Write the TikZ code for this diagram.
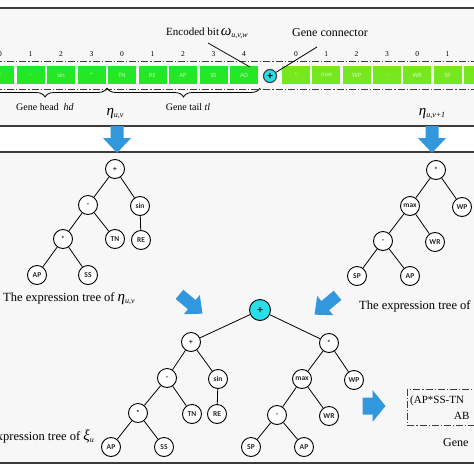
\documentclass[tikz,border=0pt]{standalone}
\usepackage{fontspec}
\setmainfont{Liberation Serif}
\newfontfamily\cbfont{Carlito}
\usetikzlibrary{decorations.pathreplacing}
\definecolor{gA}{RGB}{36,232,36}
\definecolor{gB}{RGB}{118,232,32}
\definecolor{ablue}{RGB}{50,152,222}
\definecolor{rootc}{RGB}{40,222,232}
\definecolor{bgc}{RGB}{247,247,247}
\definecolor{lnc}{RGB}{60,60,60}
\newcommand{\gk}[3]{{\fontsize{#3}{#3}\selectfont\itshape #1}{\fontsize{8}{8}\selectfont\itshape\raisebox{-0.5ex}{#2}}}
\newcommand{\bluearrow}[7]{%
  \fill[ablue, shift={(#1,#2)}, rotate=#3]
    ({-#4/2},{-#7/2}) -- ({#4/2-#5},{-#7/2}) -- ({#4/2-#5},{-#6/2}) -- ({#4/2},0)
    -- ({#4/2-#5},{#6/2}) -- ({#4/2-#5},{#7/2}) -- ({-#4/2},{#7/2}) -- cycle;}
\tikzset{
  tn/.style={circle, draw, fill=white, line width=0.9pt, minimum size=19pt, inner sep=0pt, font=\cbfont\bfseries\fontsize{7.5}{7.5}\selectfont, text=black!85},
  edg/.style={line width=0.8pt},
  cellA/.style={fill=gA, minimum width=28pt, minimum height=18pt, inner sep=0pt, font=\cbfont\fontsize{6.5}{6.5}\selectfont, text=white!70!gA},
  cellB/.style={cellA, fill=gB, text=white!70!gB},
  idx/.style={font=\fontsize{7.5}{7.5}\selectfont, inner sep=0pt},
  lab/.style={inner sep=0pt, font=\fontsize{11}{11}\selectfont},
  dashdot/.style={dash pattern=on 7pt off 2pt on 1.2pt off 2pt, line width=0.9pt, draw=lnc},
  hline/.style={line width=1.3pt, draw=lnc},
  brc/.style={decorate, decoration={brace, amplitude=9pt, mirror}, line width=0.8pt}
}
\begin{document}
\begin{tikzpicture}[x=1pt,y=-1pt]
\useasboundingbox (0,0) rectangle (474,474);
\clip (0,0) rectangle (474,474);
\fill[white] (0,0) rectangle (474,474);
\fill[bgc] (0,8) rectangle (474,463);
\fill[white] (0,126) rectangle (474,152);
\draw[hline] (0,8) -- (474,8);
\draw[hline] (0,126) -- (474,126);
\draw[hline] (0,152) -- (474,152);
\draw[hline] (0,463) -- (474,463);

% chromosome
\draw[dashdot] (-5,61) -- (480,61);
\draw[dashdot] (-5,89) -- (480,89);
\foreach \t [count=\i from 0] in {+,-,sin,*,TN,RE,AP,SS,AO}{
  \node[cellA] (ca\i) at ({30.5*\i},75) {\t};
}
\foreach \n [count=\i from 0] in {0,1,2,3,0,1,2,3,4}{
  \node[idx] (ia\i) at ({30.5*\i},54) {\n};
}
\foreach \t [count=\i from 0] in {*,max,WP,-,WR,SP,{}}{
  \node[cellB] (cb\i) at ({296+30.3*\i},75) {\t};
}
\foreach \n [count=\i from 0] in {0,1,2,3,0,1}{
  \node[idx] (ib\i) at ({296+30.3*\i},54) {\n};
}
\node[circle, draw=lnc, line width=1.1pt, fill=rootc, minimum size=13pt, inner sep=0pt, font=\cbfont\bfseries\fontsize{11}{11}\selectfont] (conn) at (270,76) {+};

\draw[brc] (-17,88) -- (107,88);
\draw[brc] (107,88) -- (260,88);

\node[lab, font=\fontsize{10}{10}\selectfont] (hd) at (45,107) {Gene head\ \ \textit{hd}};
\node[lab, font=\fontsize{10}{10}\selectfont] (tl) at (188,107) {Gene tail \textit{tl}};
\node[lab] (eta1) at (115,114) {\gk{η}{u,v}{15}};
\node[lab] (eta2) at (432,114) {\gk{η}{u,v+1}{15}};

\node[lab] (enc) at (207,33) {Encoded bit\,\gk{ω}{u,v,w}{15}};
\node[lab, font=\fontsize{12}{12}\selectfont] (gc) at (330,33) {Gene connector};
\coordinate (e1) at (208,43);
\coordinate (e2) at (250,67);
\draw[line width=0.8pt] (e1) -- (e2);
\coordinate (g1) at (317,47);
\draw[line width=0.8pt] (g1) -- (conn);

% blue arrows
\bluearrow{117}{139.5}{-90}{27}{15}{28}{13}
\bluearrow{432}{139.5}{-90}{27}{15}{28}{13}
\bluearrow{191}{304}{-40}{30}{14}{25}{12}
\bluearrow{326}{305}{-140}{30}{14}{25}{12}
\bluearrow{374}{406}{0}{23}{13}{32}{17}

% tree 1
\node[tn] (a1) at (115,169) {+};
\node[tn] (a2) at (88,205) {-};
\node[tn] (a3) at (140,206) {sin};
\node[tn] (a4) at (63,239) {*};
\node[tn] (a5) at (115,239) {TN};
\node[tn] (a6) at (141,240) {RE};
\node[tn] (a7) at (37,275) {AP};
\node[tn] (a8) at (88,275) {SS};
\foreach \u/\v in {a1/a2,a1/a3,a2/a4,a2/a5,a3/a6,a4/a7,a4/a8}{\draw[edg] (\u) -- (\v);}

% tree 2
\node[tn] (b1) at (436,170) {*};
\node[tn] (b2) at (410,206) {max};
\node[tn] (b3) at (462,207) {WP};
\node[tn] (b4) at (383,241) {-};
\node[tn] (b5) at (435,242) {WR};
\node[tn] (b6) at (357,276) {SP};
\node[tn] (b7) at (410,276) {AP};
\foreach \u/\v in {b1/b2,b1/b3,b2/b4,b2/b5,b4/b6,b4/b7}{\draw[edg] (\u) -- (\v);}

\node[lab, anchor=west, font=\fontsize{12.5}{12.5}\selectfont] (lt1) at (3,299) {The expression tree of \gk{η}{u,v}{15}};
\node[lab, anchor=west, font=\fontsize{12.5}{12.5}\selectfont] (lt2) at (359,307) {The expression tree of \gk{η}{u,v+1}{15}};

% combined tree
\node[tn, fill=rootc, minimum size=21pt, font=\cbfont\bfseries\fontsize{11}{11}\selectfont] (r) at (260,310) {+};
\node[tn] (c1) at (191,342) {+};
\node[tn] (c2) at (167,378) {-};
\node[tn] (c3) at (218,379) {sin};
\node[tn] (c4) at (138,413) {*};
\node[tn] (c5) at (192,414) {TN};
\node[tn] (c6) at (217,414) {RE};
\node[tn] (c7) at (111,447) {AP};
\node[tn] (c8) at (164,447) {SS};
\node[tn] (d1) at (329,343) {*};
\node[tn] (d2) at (302,379) {max};
\node[tn] (d3) at (354,380) {WP};
\node[tn] (d4) at (277,415) {-};
\node[tn] (d5) at (329,416) {WR};
\node[tn] (d6) at (251,447) {SP};
\node[tn] (d7) at (304,447) {AP};
\foreach \u/\v in {r/c1,r/d1,c1/c2,c1/c3,c2/c4,c2/c5,c3/c6,c4/c7,c4/c8,d1/d2,d1/d3,d2/d4,d2/d5,d4/d6,d4/d7}{\draw[edg] (\u) -- (\v);}

\node[lab, anchor=east, font=\fontsize{12.5}{12.5}\selectfont] (lt3) at (94,437) {The expression tree of \gk{ξ}{u}{15}};

\node[draw, dashdot, minimum width=80pt, minimum height=36pt, anchor=north west, inner sep=0pt] (box) at (407,389) {};
\node[lab, anchor=west] (f1) at (410,401) {(AP*SS-TN};
\node[lab, anchor=west] (f2) at (454,416) {AB};
\node[lab, anchor=west, font=\fontsize{12}{12}\selectfont] (gen) at (443,443) {Gene};
\end{tikzpicture}
\end{document}
